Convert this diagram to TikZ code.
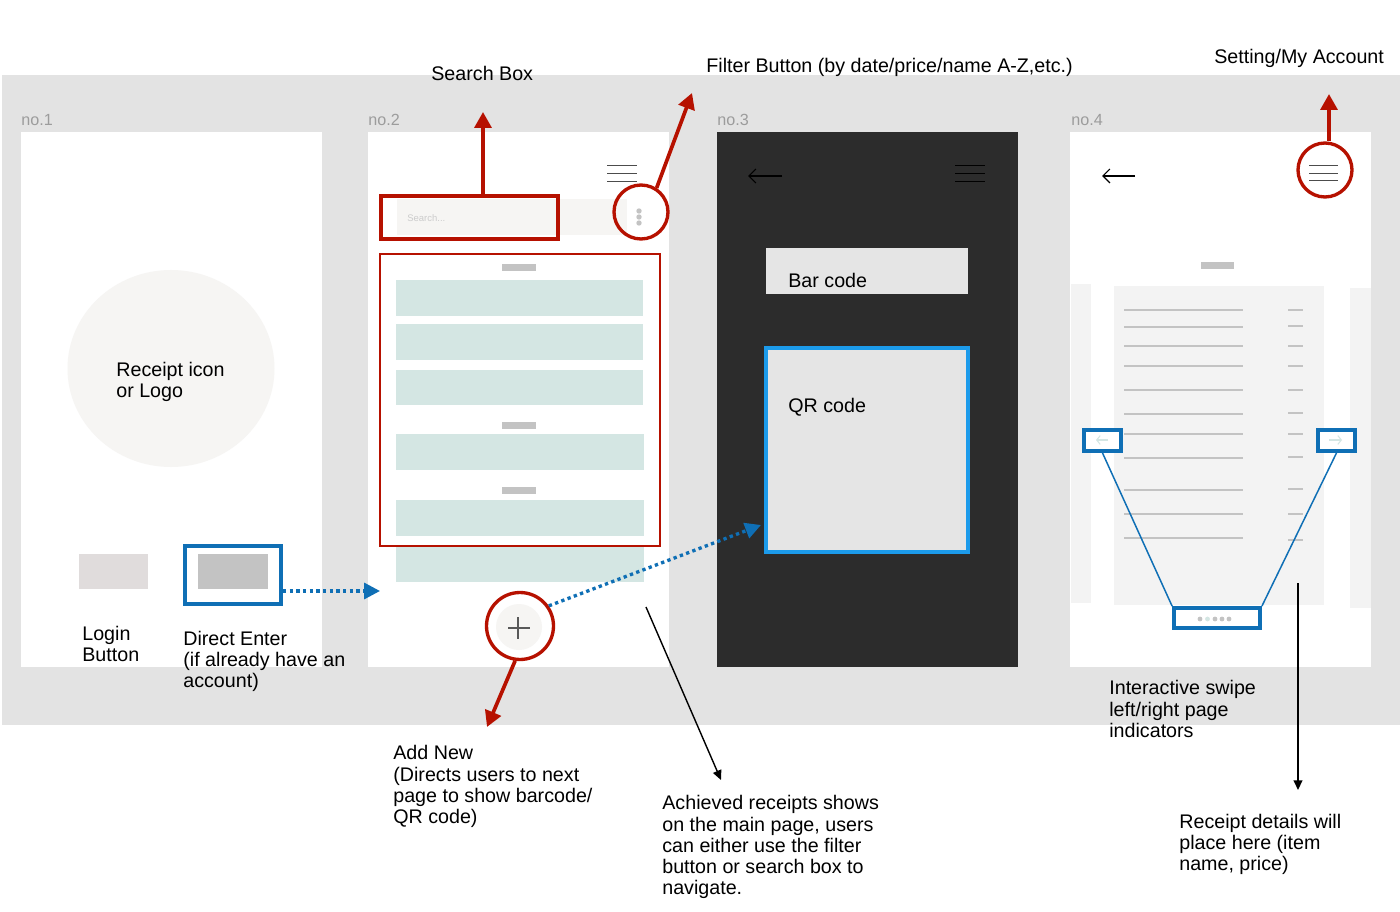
\documentclass[tikz,border=0pt]{standalone}
\usepackage{fontspec}
\setmainfont{Liberation Sans}
\usetikzlibrary{arrows.meta,fit,positioning}
\definecolor{bandgrey}{HTML}{E3E3E3}
\definecolor{notegrey}{HTML}{9C9C9C}
\definecolor{softgrey}{HTML}{F6F5F3}
\definecolor{panelgrey}{HTML}{F3F3F3}
\definecolor{midgrey}{HTML}{C3C3C3}
\definecolor{loginbox}{HTML}{E0DCDC}
\definecolor{rowgreen}{HTML}{D4E6E3}
\definecolor{darkscreen}{HTML}{2C2C2C}
\definecolor{markred}{HTML}{B61100}
\definecolor{markblue}{HTML}{0F6FB5}
\definecolor{qrblue}{HTML}{1C9BEB}
\begin{document}
\begin{tikzpicture}[x=0.02cm,y=0.02cm,
  note/.style={font=\fontsize{11.2}{12}\selectfont,align=left,anchor=west,inner sep=0pt},
  screenno/.style={font=\fontsize{9.2}{10}\selectfont,text=notegrey,anchor=west,inner sep=0pt},
  redbox/.style={draw=markred,line width=2.2pt,inner sep=0pt},
  redring/.style={draw=markred,line width=1.9pt,circle,inner sep=0pt,minimum size=1.08cm},
  bluebox/.style={draw=markblue,line width=2.2pt,fill=white,inner sep=0pt},
  redarrow/.style={draw=markred,line width=2.1pt,-{Triangle[length=9pt,width=9.5pt]}},
  dotarrow/.style={draw=markblue,line width=1.9pt,dash pattern=on 1.9pt off 1.9pt,-{Triangle[length=9pt,width=9pt]}},
  bluewire/.style={draw=markblue,line width=0.85pt},
  blackarrow/.style={draw=black,line width=0.8pt,-{Triangle[length=5.5pt,width=5pt]}},
  menuline/.style={line width=0.55pt},
  docline/.style={draw=midgrey,line width=0.9pt}]
\useasboundingbox (0,0) rectangle (1400,-912);
\fill [white] (0,0) rectangle (1400,-912);
\fill [bandgrey] (2,-75) rectangle (1400,-725);
\fill [white] (21,-132) rectangle (322,-667);
\fill [white] (368,-132) rectangle (669,-667);
\fill [darkscreen] (717,-132) rectangle (1018,-667);
\fill [white] (1070,-132) rectangle (1371,-667);
\node [screenno] (no1) at (21,-120) {no.1};
\node [screenno] (no2) at (368,-120) {no.2};
\node [screenno] (no3) at (717,-120) {no.3};
\node [screenno] (no4) at (1071,-120) {no.4};
\fill [softgrey] (171,-368.5) ellipse (103.5 and 98.5);
\node [note] (logo) at (116,-382) {Receipt icon\\or Logo};
\fill [loginbox] (79,-554) rectangle (148,-589);
\node [bluebox,fill=none,fit={(185,-546) (281,-604)}] (direct) {};
\fill [midgrey] (198,-554) rectangle (268,-589);
\node [note] (login) at (82,-644) {Login\\Button};
\node [note] (directnote) at (183,-661) {Direct Enter\\(if already have an\\account)};
\coordinate (directend) at (380,-591);
\draw [dotarrow] (direct.east |- directend) -- (directend);
\draw [menuline,black!70] (607,-165) -- (637,-165);
\draw [menuline,black!70] (607,-173) -- (637,-173);
\draw [menuline,black!70] (607,-181) -- (637,-181);
\fill [softgrey] (397,-199) rectangle (627,-235);
\node [font=\fontsize{5.4}{6}\selectfont,text=black!20,anchor=west,inner sep=0pt] (searchtext) at (407,-218.5) {Search...};
\node [redbox,fit={(381,-196) (558,-239)}] (searchbox) {};
\fill [midgrey] (639,-211) circle (2.7);
\fill [midgrey] (639,-217) circle (2.7);
\fill [midgrey] (639,-223) circle (2.7);
\node [redring] (filterring) at (641,-212) {};
\fill [rowgreen] (396,-547) rectangle (644,-582);
\node [draw=markred,line width=0.9pt,inner sep=0pt,fit={(380,-254) (660,-546)}] (receipts) {};
\fill [midgrey] (502,-264) rectangle (536,-271);
\fill [rowgreen] (396,-280) rectangle (643,-316);
\fill [rowgreen] (396,-324) rectangle (643,-360);
\fill [rowgreen] (396,-370) rectangle (643,-405);
\fill [midgrey] (502,-422) rectangle (536,-429);
\fill [rowgreen] (396,-434) rectangle (644,-470);
\fill [midgrey] (502,-487) rectangle (536,-494);
\fill [rowgreen] (396,-500) rectangle (644,-536);
\fill [softgrey] (519,-627) circle (23);
\draw [line width=0.6pt,black!65] (508,-628) -- (530,-628);
\draw [line width=0.6pt,black!65] (518,-617) -- (518,-639);
\node [redring,minimum size=1.34cm] (addring) at (520,-626) {};
\coordinate (searchend) at (483,-112);
\coordinate (filterend) at (692,-93);
\coordinate (addend) at (487,-727);
\coordinate (qrend) at (761,-525);
\draw [redarrow] (searchbox.north -| searchend) -- (searchend);
\draw [redarrow] (filterring.57) -- (filterend);
\draw [redarrow] (addring.-98) -- (addend);
\draw [dotarrow] (addring.35) -- (qrend);
\node [note] (searchnote) at (431,-73) {Search Box};
\node [note] (filternote) at (706,-67) {Filter Button (by date/price/name A-Z,etc.)};
\node [note] (addnote) at (393,-786.5) {Add New\\(Directs users to next\\page to show barcode/\\QR code)};
\node [note] (achievednote) at (662,-847) {Achieved receipts shows\\on the main page, users\\can either use the filter\\button or search box to\\navigate.};
\coordinate (listfoot) at (646,-607);
\coordinate (listend) at (721,-780);
\draw [blackarrow] (listfoot) -- (listend);
\draw [black,line width=0.7pt,-{Straight Barb[length=4pt,width=8pt]}] (782,-176) -- (748,-176);
\draw [menuline,black] (955,-165) -- (985,-165);
\draw [menuline,black] (955,-173) -- (985,-173);
\draw [menuline,black] (955,-181) -- (985,-181);
\fill [black!10] (766,-248) rectangle (968,-294);
\node [note] (barcode) at (788,-280) {Bar code};
\node [draw=qrblue,fill=black!10,line width=2.1pt,inner sep=0pt,fit={(766,-348) (968,-552)}] (qrbox) {};
\node [note] (qrcode) at (788,-407) {QR code};
\draw [black,line width=0.7pt,-{Straight Barb[length=4pt,width=8pt]}] (1135,-176) -- (1102,-176);
\draw [menuline,black!70] (1309,-165) -- (1338,-165);
\draw [menuline,black!70] (1309,-173) -- (1338,-173);
\draw [menuline,black!70] (1309,-180) -- (1338,-180);
\node [redring] (menuring) at (1325,-170) {};
\coordinate (menuend) at (1329,-94);
\draw [redarrow] (menuring.north -| menuend) -- (menuend);
\node [note] (menunote) at (1214,-58) {Setting/My Account};
\fill [midgrey] (1201,-262) rectangle (1234,-269);
\fill [panelgrey] (1071,-284) rectangle (1091,-603);
\fill [panelgrey] (1350,-288) rectangle (1371,-608);
\fill [panelgrey] (1114,-286) rectangle (1324,-605);
\draw [docline] (1124,-310) -- (1243,-310);
\draw [docline] (1124,-327) -- (1243,-327);
\draw [docline] (1124,-346) -- (1243,-346);
\draw [docline] (1124,-366) -- (1243,-366);
\draw [docline] (1124,-390) -- (1243,-390);
\draw [docline] (1124,-414) -- (1243,-414);
\draw [docline] (1124,-434) -- (1243,-434);
\draw [docline] (1124,-458) -- (1243,-458);
\draw [docline] (1124,-490) -- (1243,-490);
\draw [docline] (1124,-514) -- (1243,-514);
\draw [docline] (1124,-538) -- (1243,-538);
\draw [docline] (1288,-310) -- (1303,-310);
\draw [docline] (1288,-326) -- (1303,-326);
\draw [docline] (1288,-346) -- (1303,-346);
\draw [docline] (1288,-366) -- (1303,-366);
\draw [docline] (1288,-390) -- (1303,-390);
\draw [docline] (1288,-413) -- (1303,-413);
\draw [docline] (1288,-434) -- (1303,-434);
\draw [docline] (1288,-457) -- (1303,-457);
\draw [docline] (1288,-489) -- (1303,-489);
\draw [docline] (1288,-514) -- (1303,-514);
\draw [docline] (1288,-540) -- (1303,-540);
\node [bluebox,fit={(1084,-430) (1121,-451)}] (swipeleft) {};
\node [bluebox,fit={(1318,-430) (1355,-451)}] (swiperight) {};
\node [bluebox,fit={(1174,-608) (1260,-628)}] (pagedots) {};
\draw [rowgreen,line width=0.6pt,-{Straight Barb[length=2pt,width=5pt]}] (1108,-440) -- (1096,-440);
\draw [rowgreen,line width=0.6pt,-{Straight Barb[length=2pt,width=5pt]}] (1329,-440) -- (1342,-440);
\fill [midgrey] (1200,-619) circle (2.4);
\fill [rowgreen] (1207.5,-619) circle (2.4);
\fill [midgrey] (1215,-619) circle (2.4);
\fill [midgrey] (1222,-619) circle (2.4);
\fill [midgrey] (1229,-619) circle (2.4);
\draw [bluewire] (swipeleft.south) -- (pagedots.north west);
\draw [bluewire] (swiperight.south) -- (pagedots.north east);
\node [note] (swipenote) at (1109,-709) {Interactive swipe\\left/right page\\indicators};
\coordinate (detailfoot) at (1298,-583);
\coordinate (detailend) at (1298,-790);
\draw [blackarrow] (detailfoot) -- (detailend);
\node [note] (detailnote) at (1179,-844) {Receipt details will\\place here (item\\name, price)};
\end{tikzpicture}
\end{document}
